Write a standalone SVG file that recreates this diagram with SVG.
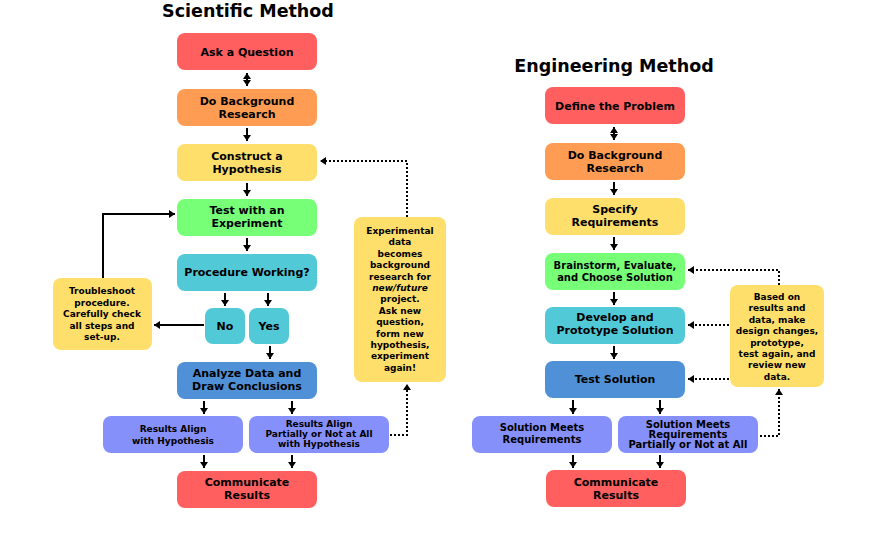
<svg xmlns="http://www.w3.org/2000/svg" width="890" height="546" viewBox="0 0 890 546">
<defs>
<marker id="ah" viewBox="0 0 8 8" markerWidth="8" markerHeight="8" refX="6" refY="4" orient="auto-start-reverse" markerUnits="userSpaceOnUse">
<path d="M0,0 L6,4 L0,8 z" fill="#000"/>
</marker>
<style>
text{font-family:"DejaVu Sans",Verdana,sans-serif;font-weight:bold;fill:#000;text-anchor:middle}
.t{font-size:17.5px}
.m{font-size:11px}
.s{font-size:9px}
.p{font-size:10px}
.n{stroke:none}
.red{fill:#FF5F5F}.org{fill:#FF9C53}.yel{fill:#FFDF6B}.grn{fill:#78FF78}.cyn{fill:#52C9D7}.blu{fill:#5090D6}.pur{fill:#8690FB}
.c{fill:none;stroke:#000;stroke-width:2;marker-end:url(#ah)}
.d{fill:none;stroke:#000;stroke-width:2;stroke-dasharray:2 2;marker-end:url(#ah)}
.both{marker-start:url(#ah)}
</style>
</defs>
<rect width="890" height="546" fill="#fff"/>
<text class="t" x="248" y="17">Scientific Method</text>
<text class="t" x="614" y="72">Engineering Method</text>

<g id="s-ask"><rect class="red" x="177" y="33" width="140" height="37" rx="8"/><text class="m" x="247" y="56">Ask a Question</text></g>
<g id="s-bg"><rect class="org" x="177" y="89" width="140" height="37" rx="8"/><text class="m" x="247" y="105">Do Background</text><text class="m" x="247" y="118">Research</text></g>
<g id="s-hyp"><rect class="yel" x="177" y="144" width="140" height="37" rx="8"/><text class="m" x="247" y="160">Construct a</text><text class="m" x="247" y="173">Hypothesis</text></g>
<g id="s-test"><rect class="grn" x="177" y="199" width="140" height="37" rx="8"/><text class="m" x="247" y="214">Test with an</text><text class="m" x="247" y="227">Experiment</text></g>
<g id="s-proc"><rect class="cyn" x="177" y="254" width="140" height="37" rx="8"/><text class="m" x="247" y="276">Procedure Working?</text></g>
<g id="s-no"><rect class="cyn" x="205" y="308" width="40" height="36" rx="8"/><text class="m" x="225" y="330">No</text></g>
<g id="s-yes"><rect class="cyn" x="249" y="308" width="40" height="36" rx="8"/><text class="m" x="269" y="330">Yes</text></g>
<g id="s-trouble"><rect class="yel" x="53" y="278" width="99" height="72" rx="8"/>
<text class="s" x="102" y="294">Troubleshoot</text><text class="s" x="102" y="305.5">procedure.</text><text class="s" x="102" y="317">Carefully check</text><text class="s" x="102" y="328.5">all steps and</text><text class="s" x="102" y="340">set-up.</text></g>
<g id="s-analyze"><rect class="blu" x="177" y="362" width="140" height="37" rx="8"/><text class="m" x="247" y="377">Analyze Data and</text><text class="m" x="247" y="390">Draw Conclusions</text></g>
<g id="s-align"><rect class="pur" x="103" y="416" width="140" height="37" rx="8"/><text class="s" x="173" y="432">Results Align</text><text class="s" x="173" y="443.5">with Hypothesis</text></g>
<g id="s-partial"><rect class="pur" x="249" y="416" width="140" height="37" rx="8"/><text class="s" x="319" y="427">Results Align</text><text class="s" x="319" y="437">Partially or Not at All</text><text class="s" x="319" y="447">with Hypothesis</text></g>
<g id="s-comm"><rect class="red" x="177" y="471" width="140" height="37" rx="8"/><text class="m" x="247" y="486">Communicate</text><text class="m" x="247" y="499">Results</text></g>
<g id="s-exp"><rect class="yel" x="354" y="217" width="92" height="165" rx="8"/>
<text class="s" x="400" y="234">Experimental</text><text class="s" x="400" y="245.4">data</text><text class="s" x="400" y="256.8">becomes</text><text class="s" x="400" y="268.2">background</text><text class="s" x="400" y="279.6">research for</text><text class="s" x="400" y="291"><tspan font-style="italic">new/future</tspan></text><text class="s" x="400" y="302.4">project.</text><text class="s" x="400" y="313.8">Ask new</text><text class="s" x="400" y="325.2">question,</text><text class="s" x="400" y="336.6">form new</text><text class="s" x="400" y="348">hypothesis,</text><text class="s" x="400" y="359.4">experiment</text><text class="s" x="400" y="370.8">again!</text></g>

<g id="e-define"><rect class="red" x="545" y="87" width="140" height="37" rx="8"/><text class="m" x="615" y="110">Define the Problem</text></g>
<g id="e-bg"><rect class="org" x="545" y="143" width="140" height="37" rx="8"/><text class="m" x="615" y="159">Do Background</text><text class="m" x="615" y="172">Research</text></g>
<g id="e-spec"><rect class="yel" x="545" y="198" width="140" height="37" rx="8"/><text class="m" x="615" y="213">Specify</text><text class="m" x="615" y="226">Requirements</text></g>
<g id="e-brain"><rect class="grn" x="545" y="253" width="140" height="37" rx="8"/><text class="p" x="615" y="269">Brainstorm, Evaluate,</text><text class="p" x="615" y="281">and Choose Solution</text></g>
<g id="e-dev"><rect class="cyn" x="545" y="307" width="140" height="37" rx="8"/><text class="m" x="615" y="321">Develop and</text><text class="m" x="615" y="334">Prototype Solution</text></g>
<g id="e-test"><rect class="blu" x="545" y="361" width="140" height="37" rx="8"/><text class="m" x="615" y="383">Test Solution</text></g>
<g id="e-meets"><rect class="pur" x="472" y="416" width="140" height="37" rx="8"/><text class="p" x="542" y="431">Solution Meets</text><text class="p" x="542" y="443">Requirements</text></g>
<g id="e-partial"><rect class="pur" x="618" y="416" width="140" height="37" rx="8"/><text class="p" x="688" y="427.5">Solution Meets</text><text class="p" x="688" y="437.5">Requirements</text><text class="p" x="688" y="447.5">Partially or Not at All</text></g>
<g id="e-comm"><rect class="red" x="546" y="470" width="140" height="37" rx="8"/><text class="m" x="616" y="486">Communicate</text><text class="m" x="616" y="499">Results</text></g>
<g id="e-based"><rect class="yel" x="730" y="285" width="94" height="102" rx="8"/>
<text class="s" x="777" y="300">Based on</text><text class="s" x="777" y="311.4">results and</text><text class="s" x="777" y="322.8">data, make</text><text class="s" x="777" y="334.2">design changes,</text><text class="s" x="777" y="345.6">prototype,</text><text class="s" x="777" y="357">test again, and</text><text class="s" x="777" y="368.4">review new</text><text class="s" x="777" y="379.8">data.</text></g>

<g id="connectors">
<path class="c both" d="M247,73 L247,86"/>
<path class="c" d="M247,128 L247,141"/>
<path class="c" d="M247,183 L247,196"/>
<path class="c" d="M247,238 L247,251"/>
<path class="c" d="M225,293 L225,306"/>
<path class="c" d="M268,293 L268,306"/>
<path class="c" d="M270,346 L270,359"/>
<path class="c" d="M204,401 L204,414"/>
<path class="c" d="M292,401 L292,414"/>
<path class="c" d="M204,455 L204,468"/>
<path class="c" d="M292,455 L292,468"/>
<path class="c" d="M204,325 L154,325"/>
<path class="c" d="M103,278 L103,214 L175,214"/>
<path class="d" d="M390,435 L407,435 L407,384"/>
<path class="d" d="M407,217 L407,161 L320,161"/>

<path class="c both" d="M614,127 L614,140"/>
<path class="c" d="M614,182 L614,195"/>
<path class="c" d="M614,237 L614,250"/>
<path class="c" d="M614,292 L614,305"/>
<path class="c" d="M614,346 L614,359"/>
<path class="c" d="M573,400 L573,414"/>
<path class="c" d="M660,400 L660,414"/>
<path class="c" d="M573,455 L573,468"/>
<path class="c" d="M660,455 L660,468"/>
<path class="d" d="M760,436 L779,436 L779,389"/>
<path class="d" d="M779,285 L779,270 L688,270"/>
<path class="d" d="M729,325 L688,325"/>
<path class="d" d="M729,379 L688,379"/>
</g>
</svg>
